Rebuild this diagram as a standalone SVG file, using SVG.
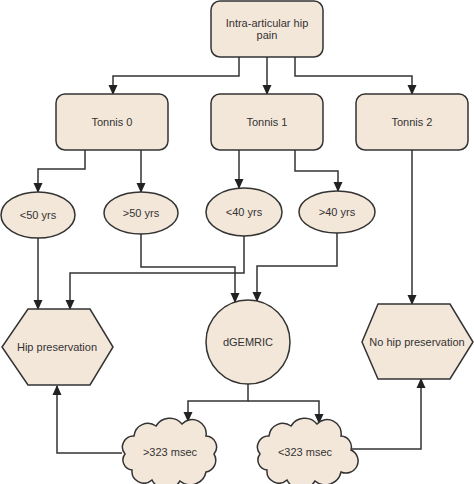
<svg xmlns="http://www.w3.org/2000/svg" width="474" height="484" viewBox="0 0 474 484">
<defs>
<style>
.n{fill:#f3e7da;stroke:#333;stroke-width:1.5}
.t{font-family:"Liberation Sans",Arial,sans-serif;font-size:11px;fill:#333;text-anchor:middle}
.c{fill:none;stroke:#333;stroke-width:1.5}
</style>
<marker id="a" markerWidth="10" markerHeight="10" refX="9" refY="5" orient="auto" markerUnits="userSpaceOnUse">
<path d="M0,0.5 L10,5 L0,9.5 Z" fill="#222"/>
</marker>
</defs>
<rect width="474" height="484" fill="#fff"/>
<g id="connectors">
<path class="c" marker-end="url(#a)" d="M239,57 V76 H113 V94"/>
<path class="c" marker-end="url(#a)" d="M267,57 V94"/>
<path class="c" marker-end="url(#a)" d="M295,57 V76 H412 V94"/>
<path class="c" marker-end="url(#a)" d="M85,150 V169 H38 V192"/>
<path class="c" marker-end="url(#a)" d="M141,150 V192"/>
<path class="c" marker-end="url(#a)" d="M239,150 V188"/>
<path class="c" marker-end="url(#a)" d="M295,150 V171 H338 V191"/>
<path class="c" marker-end="url(#a)" d="M412,150 V304"/>
<path class="c" marker-end="url(#a)" d="M38,238 V309"/>
<path class="c" marker-end="url(#a)" d="M141,234 V267 H235 V302"/>
<path class="c" marker-end="url(#a)" d="M244,236 V273 H70 V309"/>
<path class="c" marker-end="url(#a)" d="M337,233 V266 H257 V301"/>
<path class="c" marker-end="url(#a)" d="M248,384 V401 H188 V421"/>
<path class="c" marker-end="url(#a)" d="M248,401 H319 V423"/>
<path class="c" marker-end="url(#a)" d="M122,453 H57 V386"/>
<path class="c" marker-end="url(#a)" d="M352,449 H421 V379"/>
</g>
<g id="pain">
<rect class="n" x="211" y="1" width="112" height="56" rx="9"/>
<text class="t" x="267" y="27">Intra-articular hip</text>
<text class="t" x="267" y="39">pain</text>
</g>
<g id="tonnis0">
<rect class="n" x="56" y="94" width="112" height="56" rx="9"/>
<text class="t" x="112" y="126">Tonnis 0</text>
</g>
<g id="tonnis1">
<rect class="n" x="211" y="94" width="112" height="56" rx="9"/>
<text class="t" x="267" y="126">Tonnis 1</text>
</g>
<g id="tonnis2">
<rect class="n" x="356" y="94" width="112" height="56" rx="9"/>
<text class="t" x="412" y="126">Tonnis 2</text>
</g>
<g id="lt50">
<ellipse class="n" cx="38" cy="215" rx="37" ry="23"/>
<text class="t" x="38" y="219">&lt;50 yrs</text>
</g>
<g id="gt50">
<ellipse class="n" cx="141" cy="213" rx="37" ry="21"/>
<text class="t" x="141" y="217">&gt;50 yrs</text>
</g>
<g id="lt40">
<ellipse class="n" cx="244" cy="212" rx="38" ry="24"/>
<text class="t" x="244" y="216">&lt;40 yrs</text>
</g>
<g id="gt40">
<ellipse class="n" cx="337" cy="212" rx="38" ry="21"/>
<text class="t" x="337" y="216">&gt;40 yrs</text>
</g>
<g id="hip">
<polygon class="n" points="28,309 90,309 113,347 90,385 28,385 2,347"/>
<text class="t" x="57" y="351">Hip preservation</text>
</g>
<g id="dgemric">
<circle class="n" cx="248" cy="342" r="42"/>
<text class="t" x="248" y="346">dGEMRIC</text>
</g>
<g id="nohip">
<polygon class="n" points="378,304 450,304 473,342 450,379 378,379 362,342"/>
<text class="t" x="417" y="346">No hip preservation</text>
</g>
<g id="gt323">
<path class="n" transform="translate(170,452)" d="M-45,2 A11,11 0 0 1 -36,-16 A14,14 0 0 1 -14,-26 A16,16 0 0 1 12,-28 A14,14 0 0 1 36,-16 A11,11 0 0 1 44,2 A12,12 0 0 1 36,20 A16,16 0 0 1 10,29 A16,16 0 0 1 -18,28 A12,12 0 0 1 -38,18 A10,10 0 0 1 -45,2 Z"/>
<text class="t" x="170" y="456">&gt;323 msec</text>
</g>
<g id="lt323">
<path class="n" transform="translate(305,452)" d="M-45,2 A11,11 0 0 1 -36,-16 A14,14 0 0 1 -14,-26 A16,16 0 0 1 12,-28 A14,14 0 0 1 36,-16 A11,11 0 0 1 46,-2 A12,12 0 0 1 36,20 A16,16 0 0 1 10,29 A16,16 0 0 1 -18,28 A12,12 0 0 1 -38,18 A10,10 0 0 1 -45,2 Z"/>
<text class="t" x="305" y="456">&lt;323 msec</text>
</g>
</svg>
